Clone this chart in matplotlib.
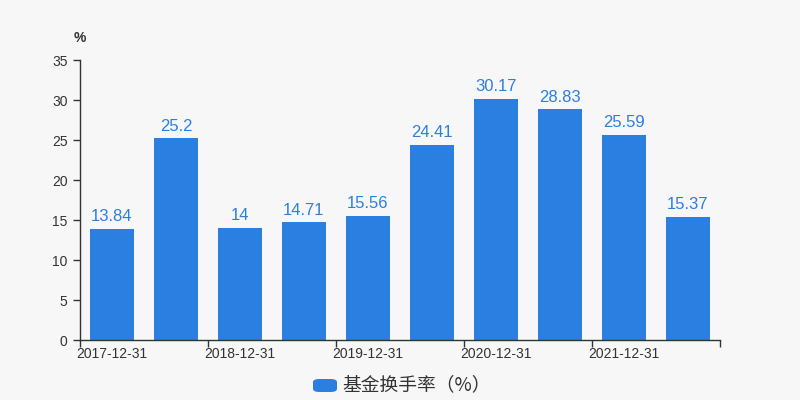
import matplotlib
matplotlib.use('Agg')
import matplotlib.pyplot as plt
from matplotlib.patches import FancyBboxPatch

plt.rcParams['font.family'] = ['Liberation Sans', 'Noto Sans CJK SC', 'DejaVu Sans']

dates = ['2017-12-31', '2018-06-30', '2018-12-31', '2019-06-30', '2019-12-31',
         '2020-06-30', '2020-12-31', '2021-06-30', '2021-12-31', '2022-06-30']
turnover = [13.84, 25.2, 14, 14.71, 15.56, 24.41, 30.17, 28.83, 25.59, 15.37]
value_labels = ['13.84', '25.2', '14', '14.71', '15.56', '24.41', '30.17', '28.83', '25.59', '15.37']
legend_label = '基金换手率（%）'

bg = '#f7f7f7'
blue = '#2b7fe0'
axis_c = '#333333'

fig = plt.figure(figsize=(8, 4), dpi=100, facecolor=bg)
ax = fig.add_axes([0.1, 0.15, 0.8, 0.7], facecolor=bg)

x = list(range(len(dates)))
ax.bar(x, turnover, width=0.7, color=blue, zorder=2)
for xi, v, s in zip(x, turnover, value_labels):
    ax.text(xi, v + 0.6, s, ha='center', va='bottom', color=blue, fontsize=12)

ax.set_xlim(-0.5, len(dates) - 0.5)
ax.set_ylim(0, 35)
ax.set_yticks(range(0, 36, 5))

ax.set_xticks([-0.5, 1.5, 3.5, 5.5, 7.5, 9.5])
ax.set_xticklabels([])
ax.set_xticks(x[::2], minor=True)
ax.set_xticklabels(dates[::2], minor=True)
ax.tick_params(axis='x', which='major', length=5, color=axis_c, width=1)
ax.tick_params(axis='x', which='minor', length=0, pad=5, labelsize=10, labelcolor=axis_c)
ax.tick_params(axis='y', length=5, color=axis_c, width=1, labelsize=10, labelcolor=axis_c, pad=4)

for side in ['top', 'right']:
    ax.spines[side].set_visible(False)
for side in ['left', 'bottom']:
    ax.spines[side].set_color(axis_c)
    ax.spines[side].set_linewidth(1)

fig.text(0.1, 0.905, '%', ha='center', va='center', fontsize=10, color=axis_c, fontweight='bold')

# legend
fig.patches.append(FancyBboxPatch((313 / 800, 1 - 392 / 400), 24 / 800, 13 / 400,
                                  boxstyle='round,pad=0,rounding_size=0.008',
                                  transform=fig.transFigure, facecolor=blue, edgecolor='none'))
fig.text(342 / 800, 1 - 385 / 400, legend_label, ha='left', va='center', fontsize=13.5, color=axis_c,
         family=['Noto Sans CJK SC', 'DejaVu Sans'])

fig.savefig('out.png', dpi=100, facecolor=bg)
